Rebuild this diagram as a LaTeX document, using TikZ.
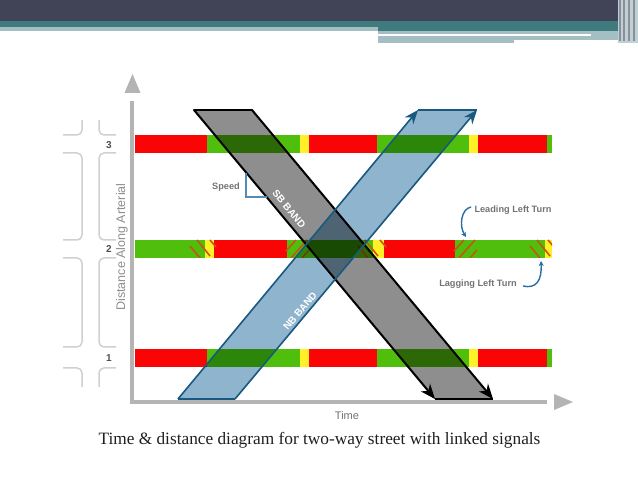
\documentclass[tikz,border=0pt]{standalone}
\usepackage{fontspec}
\setmainfont{Liberation Serif}
\setsansfont{Liberation Sans}
\usetikzlibrary{arrows.meta}
\definecolor{hdark}{RGB}{65,67,86}
\definecolor{hteal}{RGB}{62,122,126}
\definecolor{hlight}{RGB}{163,191,195}
\definecolor{sred}{RGB}{250,5,5}
\definecolor{sgreen}{RGB}{80,190,12}
\definecolor{syellow}{RGB}{255,240,40}
\definecolor{hatchc}{RGB}{200,85,20}
\definecolor{axisc}{RGB}{180,180,180}
\definecolor{curbc}{RGB}{208,208,208}
\definecolor{lblc}{RGB}{115,115,115}
\definecolor{numc}{RGB}{80,80,80}
\definecolor{sbfill}{RGB}{142,142,142}
\definecolor{nbfill}{RGB}{143,180,205}
\definecolor{nbline}{RGB}{25,88,128}
\definecolor{bluec}{RGB}{40,110,165}
\begin{document}
\begin{tikzpicture}[x=1pt,y=-1pt,
  curb/.style={draw=curbc, line width=1.5pt, rounded corners=5pt},
  lbl/.style={font=\sffamily\bfseries\fontsize{9.2}{10}\selectfont, text=lblc, inner sep=0pt},
  bandtxt/.style={font=\sffamily\bfseries\fontsize{10}{12}\selectfont, text=white, inner sep=0pt},
  num/.style={font=\sffamily\bfseries\fontsize{10}{11}\selectfont, text=numc, inner sep=0pt},
  hatch/.style={draw=hatchc, line width=1.6pt},
  axisline/.style={draw=axisc, line width=4pt},
  sbedge/.style={draw=black, line width=2pt},
  nbedge/.style={draw=nbline, line width=1.6pt},
  sbarrow/.style={sbedge, -{Stealth[length=15pt,width=12pt]}},
  nbarrow/.style={nbedge, -{Stealth[length=14pt,width=11pt]}},
  callout/.style={draw=bluec, line width=1.4pt, -{Stealth[length=5pt,width=5pt]}}]
\useasboundingbox (0,0) rectangle (638,478);
\fill[white] (0,0) rectangle (638,478);
% header
\fill[hdark] (0,0) rectangle (638,21);
\fill[hteal] (0,21) rectangle (378,27);
\fill[hlight] (0,27) rectangle (378,31);
\fill[hteal] (378,21) rectangle (618,31);
\fill[hlight] (378,31) rectangle (618,34);
\fill[hlight] (591,34) rectangle (618,40);
\fill[hlight] (378,36) rectangle (514,43);
\fill[hlight] (514,36) rectangle (626,40);
\fill[hlight!70] (618,0) rectangle (638,43);
\foreach \xx in {619,623,628,633}{\fill[hdark!60] (\xx,0) rectangle (\xx+1.5,41);}
% curbs
\draw[curb] (82,120) -- (82,135) -- (63,135);
\draw[curb] (63,153) -- (82,153) -- (82,240) -- (63,240);
\draw[curb] (63,258) -- (82,258) -- (82,347) -- (63,347);
\draw[curb] (63,368) -- (82,368) -- (82,387);
\draw[curb] (99,120) -- (99,135) -- (116,135);
\draw[curb] (116,153) -- (99,153) -- (99,240) -- (116,240);
\draw[curb] (116,258) -- (99,258) -- (99,347) -- (116,347);
\draw[curb] (116,368) -- (99,368) -- (99,387);
% axes
\draw[axisline] (132,101) -- (132,402) -- (547,402);
\fill[axisc] (124.5,93) -- (140.5,93) -- (132.5,74) -- cycle;
\fill[axisc] (554,394) -- (554,410) -- (573,402) -- cycle;
% bars 1 and 3
\foreach \yt in {135,349}{
  \fill[sred] (135,\yt) rectangle (207,\yt+18);
  \fill[sgreen] (207,\yt) rectangle (300,\yt+18);
  \fill[syellow] (300,\yt) rectangle (309,\yt+18);
  \fill[sred] (309,\yt) rectangle (377,\yt+18);
  \fill[sgreen] (377,\yt) rectangle (469,\yt+18);
  \fill[syellow] (469,\yt) rectangle (478,\yt+18);
  \fill[sred] (478,\yt) rectangle (547,\yt+18);
  \fill[sgreen] (547,\yt) rectangle (552,\yt+18);
}
% bar 2
\fill[sgreen] (135,240) rectangle (205,258);
\fill[syellow] (205,240) rectangle (214,258);
\fill[sred] (214,240) rectangle (287,258);
\fill[sgreen] (287,240) rectangle (373,258);
\fill[syellow] (373,240) rectangle (384,258);
\fill[sred] (384,240) rectangle (455,258);
\fill[sgreen] (455,240) rectangle (545,258);
\fill[syellow] (545,240) rectangle (552,258);
\begin{scope}
  \clip (135,240) rectangle (552,258);
  \foreach \xg/\xy in {205/214,373/384,545/552}{
    \draw[hatch] (\xg-15,246) -- (\xg-5,258);
    \draw[hatch] (\xg-8,240) -- (\xg+5,256);
    \draw[hatch] (\xy-4,240) -- (\xy+2,247);
  }
  \foreach \xr in {287,455}{
    \draw[hatch] (\xr-1,251) -- (\xr+9,240);
    \draw[hatch] (\xr+4,258) -- (\xr+20,240);
    \draw[hatch] (\xr+15,258) -- (\xr+22,250);
  }
\end{scope}
% bands
\begin{scope}[blend mode=multiply]
  \fill[sbfill] (194,110) -- (252,110) -- (493,399) -- (435,399) -- cycle;
  \fill[nbfill] (178,399) -- (235,399) -- (477,110) -- (418,110) -- cycle;
\end{scope}
\coordinate (sbA) at (194,110);
\coordinate (sbB) at (252,110);
\coordinate (sbC) at (493,399);
\coordinate (sbD) at (435,399);
\coordinate (nbA) at (178,399);
\coordinate (nbB) at (235,399);
\coordinate (nbC) at (477,110);
\coordinate (nbD) at (418,110);
\draw[sbedge, line cap=round] (sbA) -- (sbB);
\draw[sbedge] (sbD) -- (sbC);
\draw[sbarrow] (sbA) -- (sbD);
\draw[sbarrow] (sbB) -- (sbC);
\draw[nbedge] (nbA) -- (nbB);
\draw[nbedge] (nbD) -- (nbC);
\draw[nbarrow] (nbA) -- (nbD);
\draw[nbarrow] (nbB) -- (nbC);
% speed triangle
\coordinate (spA) at (246,173);
\coordinate (spB) at (246,197);
\coordinate (spC) at (267,197);
\draw[draw=bluec!80, line width=1.2pt] (spA) -- (spB) -- (spC);
\node[lbl] (speed) at (226,187) {Speed};
% band labels
\node[bandtxt, rotate=-50.2] (sbt) at (289,209) {SB BAND};
\node[bandtxt, rotate=50.3] (nbt) at (300,311) {NB BAND};
% left turn labels
\node[lbl] (lead) at (513,210) {Leading Left Turn};
\node[lbl] (lag) at (478,284) {Lagging Left Turn};
\coordinate (leadS) at (471,207);
\coordinate (leadE) at (466,237);
\coordinate (lagS) at (523,286);
\coordinate (lagE) at (541,261);
\draw[callout] (leadS) .. controls (461,209) and (459,226) .. (leadE);
\draw[callout] (lagS) .. controls (536,289) and (542,281) .. (lagE);
% axis labels
\node[font=\sffamily\fontsize{11}{12}\selectfont, text=lblc, inner sep=0pt] (time) at (347,416) {Time};
\node[font=\sffamily\fontsize{12.5}{14}\selectfont, text=lblc!80, rotate=90, inner sep=0pt] (dist) at (122,247) {Distance Along Arterial};
\node[num] (n3) at (109,145) {3};
\node[num] (n2) at (109,249) {2};
\node[num] (n1) at (109,358) {1};
% caption
\node[font=\fontsize{17.3}{19}\selectfont, text=black!88, inner sep=0pt] (cap) at (319.5,440) {Time \& distance diagram for two-way street with linked signals};
\end{tikzpicture}
\end{document}
